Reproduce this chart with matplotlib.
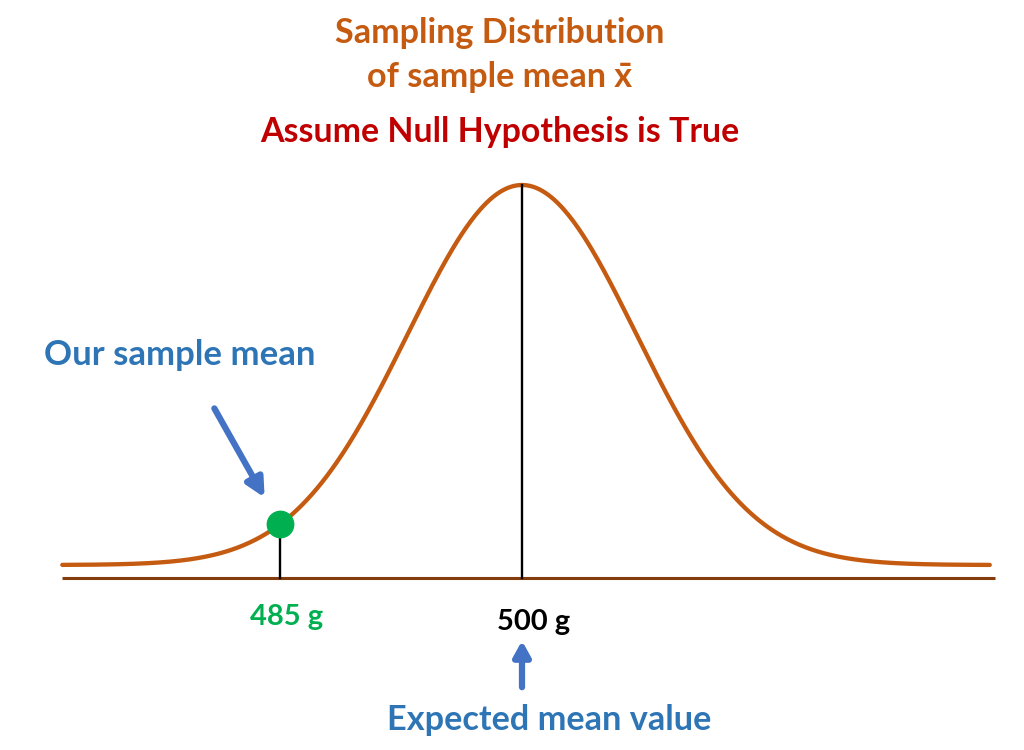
import numpy as np
import matplotlib
matplotlib.use('Agg')
import matplotlib.pyplot as plt

# values
MU = 500            # expected mean (g), null hypothesis
SIGMA = 7.1         # spread of the sampling distribution (g)
SAMPLE_MEAN = 485   # our sample mean (g)
X_RANGE = (471.5, 529.0)

TITLE_LINES = ['Sampling Distribution', 'of sample mean x\u0304']
NULL_TEXT = 'Assume Null Hypothesis is True'
SAMPLE_LABEL = 'Our sample mean'
EXPECTED_LABEL = 'Expected mean value'

ORANGE = '#C55A11'
BASE = '#843C0C'
RED = '#C00000'
BLUE_TXT = '#2E75B6'
BLUE_ARROW = '#4472C4'
GREEN = '#00B050'

FONT = ['Lato', 'DejaVu Sans']
plt.rcParams['font.family'] = FONT

# pixel -> data mapping (figure 1024 x 750)
PX_PER_G = 16.13
def dx(px):
    return MU + (px - 522) / PX_PER_G

def dy(py):
    return (565 - py) / 380.0


def curve(x):
    return np.exp(-0.5 * ((x - MU) / SIGMA) ** 2)


def main():
    fig = plt.figure(figsize=(10.24, 7.5), dpi=100)
    ax = fig.add_axes([0, 0, 1, 1])
    ax.set_xlim(dx(0), dx(1024))
    ax.set_ylim(dy(750), dy(0))
    ax.axis('off')

    base_y = dy(578)
    ax.plot([dx(62), dx(995)], [base_y, base_y], color=BASE, lw=2.2,
            solid_capstyle='butt')

    xs = np.linspace(X_RANGE[0], X_RANGE[1], 600)
    ax.plot(xs, curve(xs), color=ORANGE, lw=3.1, solid_capstyle='round')

    ax.plot([MU, MU], [base_y, curve(MU)], color='black', lw=1.7)
    ax.plot([SAMPLE_MEAN, SAMPLE_MEAN], [base_y, curve(SAMPLE_MEAN)],
            color='black', lw=1.7)
    ax.plot([SAMPLE_MEAN], [curve(SAMPLE_MEAN)], 'o', color=GREEN,
            markersize=19, zorder=5)

    # titles
    ax.text(dx(500), dy(33), TITLE_LINES[0], color=ORANGE, fontsize=24.6,
            fontweight='bold', ha='center', va='center')
    ax.text(dx(500), dy(77), TITLE_LINES[1], color=ORANGE, fontsize=24.6,
            fontweight='bold', ha='center', va='center')
    ax.text(dx(500), dy(132), NULL_TEXT, color=RED, fontsize=24.4,
            fontweight='bold', ha='center', va='center')

    # sample mean annotation
    ax.text(dx(180), dy(355), SAMPLE_LABEL, color=BLUE_TXT, fontsize=25,
            fontweight='bold', ha='center', va='center')
    ax.annotate('', xy=(dx(266), dy(500)), xytext=(dx(213), dy(406)),
                arrowprops=dict(arrowstyle='-|>,head_length=1.1,head_width=0.55',
                                color=BLUE_ARROW, lw=4.5))

    ax.text(SAMPLE_MEAN + 0.4, dy(617), f'{SAMPLE_MEAN} g', color=GREEN,
            fontsize=21, fontweight='bold', ha='center', va='center')
    ax.text(MU + 0.7, dy(622), f'{MU} g', color='black',
            fontsize=21, fontweight='bold', ha='center', va='center')

    ax.annotate('', xy=(MU, dy(638)), xytext=(MU, dy(690)),
                arrowprops=dict(arrowstyle='-|>,head_length=0.9,head_width=0.5',
                                color=BLUE_ARROW, lw=4.5))
    ax.text(dx(549), dy(720), EXPECTED_LABEL, color=BLUE_TXT, fontsize=24.7,
            fontweight='bold', ha='center', va='center')

    fig.savefig('out.png', dpi=100, facecolor='white')


if __name__ == '__main__':
    main()
